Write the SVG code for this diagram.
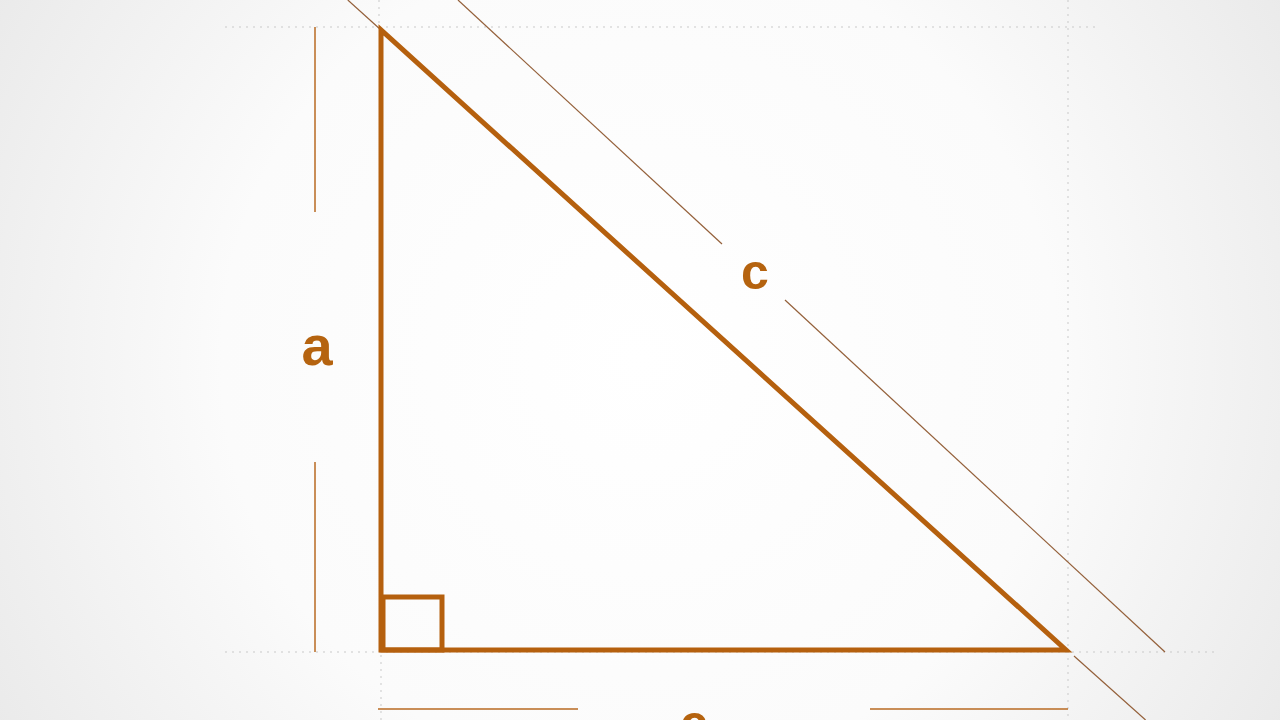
<svg xmlns="http://www.w3.org/2000/svg" width="1280" height="720" viewBox="0 0 1280 720">
<defs>
<radialGradient id="bg" cx="640" cy="360" r="760" gradientUnits="userSpaceOnUse">
<stop offset="0" stop-color="#ffffff"/>
<stop offset="0.55" stop-color="#fbfbfb"/>
<stop offset="1" stop-color="#e9e9e9"/>
</radialGradient>
<style>
.guide{stroke:#c9c9c9;stroke-width:1;stroke-dasharray:2 5;fill:none}
.thin{stroke:#94603a;stroke-width:1.2;fill:none}
.dim{stroke:#b86a22;stroke-width:1.5;fill:none}
.tri{stroke:#b5600e;stroke-width:5;fill:none;stroke-linejoin:miter}
.lbl{font-family:"Liberation Sans",Arial,sans-serif;font-weight:bold;fill:#b5630f;text-anchor:middle}
</style>
</defs>
<rect width="1280" height="720" fill="url(#bg)"/>
<g id="guides">
<line class="guide" x1="225" y1="27" x2="1100" y2="27"/>
<line class="guide" x1="225" y1="652" x2="1215" y2="652"/>
<line class="guide" x1="1068" y1="0" x2="1068" y2="720"/>
<line class="guide" x1="379" y1="0" x2="379" y2="27"/>
<line class="guide" x1="381" y1="655" x2="381" y2="720"/>
</g>
<g id="connectors">
<line class="thin" x1="347.8" y1="0" x2="381" y2="30"/>
<line class="thin" x1="1074" y1="656" x2="1145.6" y2="720"/>
<line class="thin" x1="458" y1="0" x2="722" y2="244"/>
<line class="thin" x1="785" y1="300" x2="1165" y2="652"/>
<line class="dim" x1="315" y1="27" x2="315" y2="212"/>
<line class="dim" x1="315" y1="462" x2="315" y2="652"/>
<line class="dim" x1="378" y1="709" x2="578" y2="709" stroke="#c0602a"/>
<line class="dim" x1="870" y1="709" x2="1068" y2="709" stroke="#c0602a"/>
</g>
<g id="triangle">
<path class="tri" d="M381 30 L381 650 L1066 650 Z"/>
<rect class="tri" x="383" y="597" width="59" height="53" stroke-width="4"/>
</g>
<g id="label-a"><text class="lbl" x="317" y="365" font-size="56">a</text></g>
<g id="label-c"><text class="lbl" x="755" y="289" font-size="50">c</text></g>
<g id="label-bottom"><text class="lbl" x="694" y="740" font-size="50">c</text></g>
</svg>
